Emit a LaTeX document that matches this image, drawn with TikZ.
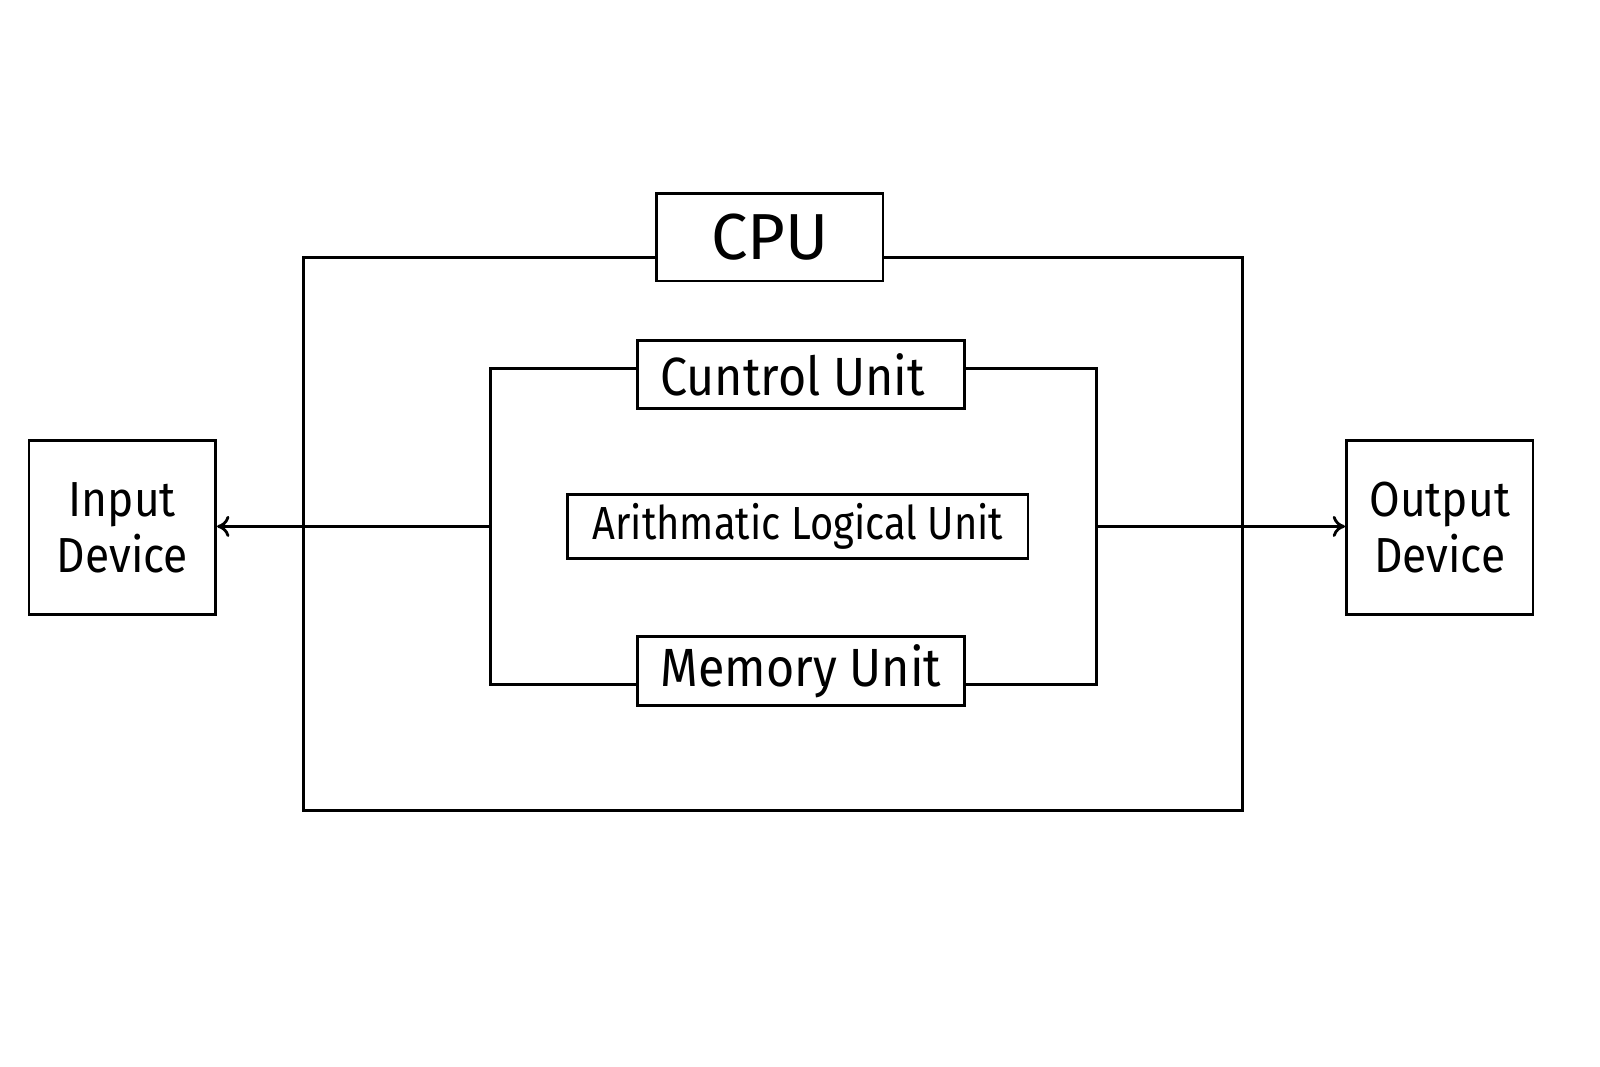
\documentclass[tikz,border=0pt]{standalone}
\usepackage{fontspec}
\setmainfont{Fira Sans}
\newfontfamily\narrowf[FakeStretch=0.90]{Fira Sans}
\newfontfamily\narrowerf[FakeStretch=0.86]{Fira Sans}
\usetikzlibrary{arrows.meta}
\begin{document}
\begin{tikzpicture}[x=0.01cm,y=-0.01cm,
  box/.style={draw=black,line width=0.8pt,fill=white,inner sep=0pt,anchor=north west},
  conn/.style={draw=black,line width=0.8pt,-{To[length=3.5pt,width=6pt]}},
  frame/.style={draw=black,line width=0.8pt}]
\useasboundingbox[fill=white] (0,0) rectangle (1600,1066);
% CPU outer frame
\node[frame,inner sep=0pt,anchor=north west,minimum width=938.8*0.01cm,minimum height=553*0.01cm] (cpu) at (302,256) {};
\node[box,minimum width=226.6*0.01cm,minimum height=87.8*0.01cm,font=\fontsize{18.5}{20}\selectfont] (cpulab) at (655,191.8) {CPU};
% inner bus loop
\node[frame,inner sep=0pt,anchor=north west,minimum width=606.2*0.01cm,minimum height=315.4*0.01cm] (bus) at (488.8,367.3) {};
\node[box,minimum width=327.6*0.01cm,minimum height=68.3*0.01cm,font=\narrowf\fontsize{15.3}{17}\selectfont] (cu) at (635.7,338.8) {\hspace*{-4.7pt}Cuntrol Unit};
\node[box,minimum width=460.2*0.01cm,minimum height=64.2*0.01cm,font=\narrowerf\fontsize{13.2}{15}\selectfont] (alu) at (566.3,492.9) {Arithmatic Logical Unit};
\node[box,minimum width=327.6*0.01cm,minimum height=69.3*0.01cm,font=\narrowf\fontsize{15.3}{17}\selectfont] (mu) at (635.7,634.7) {Memory Unit};
% devices
\node[box,minimum width=186.7*0.01cm,minimum height=174.5*0.01cm,align=center,font=\narrowf\fontsize{14}{16}\selectfont] (in) at (27.6,438.8) {\raisebox{-1pt}{Input}\\\raisebox{-1pt}{Device}};
\node[box,minimum width=186.6*0.01cm,minimum height=174.5*0.01cm,align=center,font=\narrowf\fontsize{14}{16}\selectfont] (out) at (1345,438.8) {\raisebox{-1pt}{Output}\\\raisebox{-1pt}{Device}};
% connectors
\draw[conn] (bus.west) -- (in.east |- bus.west);
\draw[conn] (bus.east) -- (out.west |- bus.east);
\end{tikzpicture}
\end{document}
